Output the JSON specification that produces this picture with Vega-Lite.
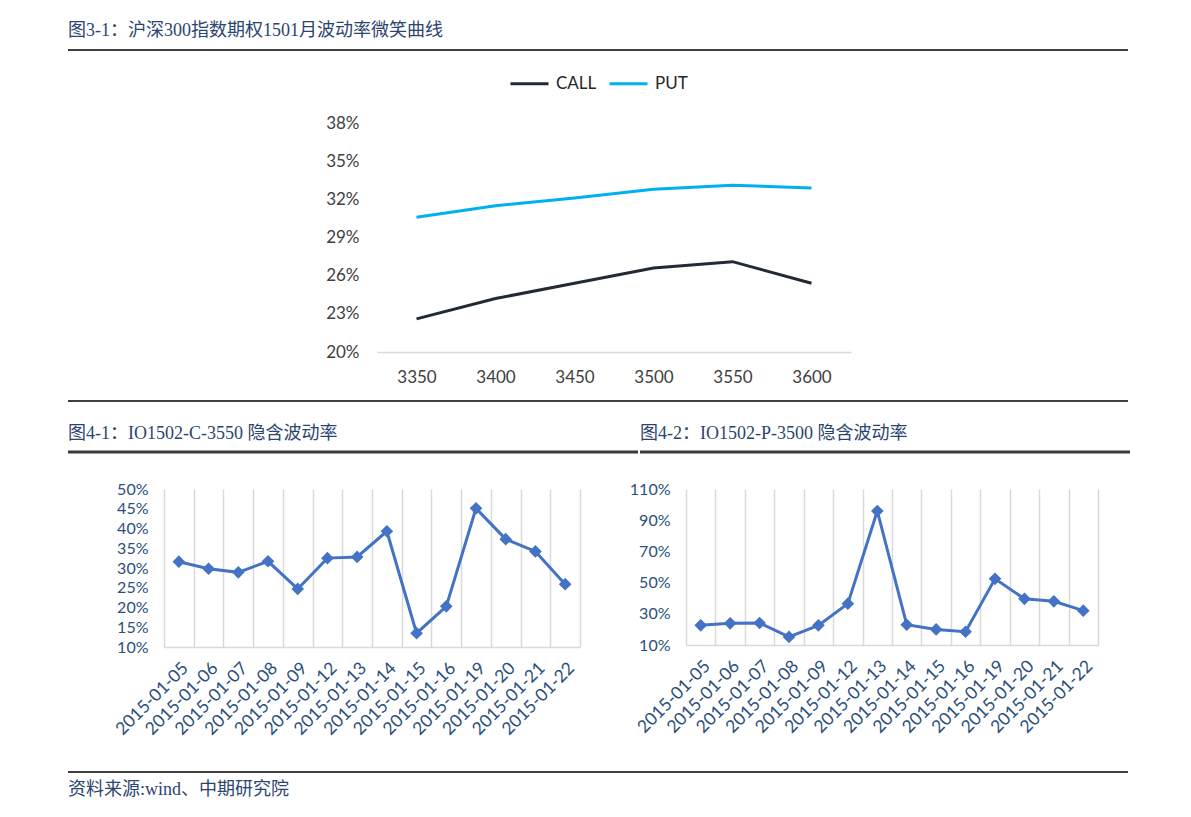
{
  "$schema": "https://vega.github.io/schema/vega-lite/v6.json",
  "background": "white",
  "padding": {"left": 66, "top": 22, "right": 0, "bottom": 0},
  "spacing": 0,
  "resolve": {"legend": {"color": "independent"}, "scale": {"color": "independent"}},
  "config": {
    "view": {"stroke": null},
    "font": "Lato",
    "title": {"font": "'Liberation Serif', 'Noto Sans CJK SC'", "fontSize": 18, "fontWeight": "normal", "color": "#2b4570", "anchor": "start", "frame": "group"}
  },
  "datasets": {
    "smile": [
      {"strike": "3350", "type": "CALL", "iv": 0.226},
      {"strike": "3400", "type": "CALL", "iv": 0.242},
      {"strike": "3450", "type": "CALL", "iv": 0.254},
      {"strike": "3500", "type": "CALL", "iv": 0.266},
      {"strike": "3550", "type": "CALL", "iv": 0.271},
      {"strike": "3600", "type": "CALL", "iv": 0.254},
      {"strike": "3350", "type": "PUT", "iv": 0.306},
      {"strike": "3400", "type": "PUT", "iv": 0.315},
      {"strike": "3450", "type": "PUT", "iv": 0.321},
      {"strike": "3500", "type": "PUT", "iv": 0.328},
      {"strike": "3550", "type": "PUT", "iv": 0.331},
      {"strike": "3600", "type": "PUT", "iv": 0.329}
    ],
    "c3550": [
      {"date": "2015-01-05", "iv": 0.316},
      {"date": "2015-01-06", "iv": 0.298},
      {"date": "2015-01-07", "iv": 0.289},
      {"date": "2015-01-08", "iv": 0.317},
      {"date": "2015-01-09", "iv": 0.247},
      {"date": "2015-01-12", "iv": 0.325},
      {"date": "2015-01-13", "iv": 0.328},
      {"date": "2015-01-14", "iv": 0.393},
      {"date": "2015-01-15", "iv": 0.135},
      {"date": "2015-01-16", "iv": 0.203},
      {"date": "2015-01-19", "iv": 0.451},
      {"date": "2015-01-20", "iv": 0.373},
      {"date": "2015-01-21", "iv": 0.342},
      {"date": "2015-01-22", "iv": 0.259}
    ],
    "p3500": [
      {"date": "2015-01-05", "iv": 0.226},
      {"date": "2015-01-06", "iv": 0.239},
      {"date": "2015-01-07", "iv": 0.241},
      {"date": "2015-01-08", "iv": 0.152},
      {"date": "2015-01-09", "iv": 0.226},
      {"date": "2015-01-12", "iv": 0.365},
      {"date": "2015-01-13", "iv": 0.959},
      {"date": "2015-01-14", "iv": 0.230},
      {"date": "2015-01-15", "iv": 0.200},
      {"date": "2015-01-16", "iv": 0.185},
      {"date": "2015-01-19", "iv": 0.524},
      {"date": "2015-01-20", "iv": 0.396},
      {"date": "2015-01-21", "iv": 0.380},
      {"date": "2015-01-22", "iv": 0.320}
    ]
  },
  "vconcat": [
    {
      "title": {"text": "图3-1：沪深300指数期权1501月波动率微笑曲线", "offset": 9},
      "width": 1060, "height": 13,
      "data": {"values": [{}]},
      "mark": {"type": "rule", "color": "#000000", "strokeWidth": 1.5},
      "encoding": {"y": {"datum": 1, "type": "quantitative", "scale": {"domain": [0, 1]}, "axis": null}}
    },
    {
      "spacing": 15,
      "resolve": {"legend": {"color": "independent"}, "scale": {"color": "independent"}},
      "vconcat": [
        {
          "spacing": 0,
          "resolve": {"legend": {"color": "independent"}, "scale": {"color": "independent"}},
          "hconcat": [
            {"width": 257, "height": 1, "data": {"values": []}, "mark": "point", "encoding": {}},
            {
              "width": 474, "height": 229,
              "data": {"name": "smile"},
              "mark": {"type": "line", "strokeWidth": 3},
              "encoding": {
                "x": {"field": "strike", "type": "ordinal", "axis": {"title": null, "labelAngle": 0, "ticks": false, "grid": false, "domainColor": "#d9d9d9", "domainWidth": 1.5, "labelFont": "Lato", "labelFontSize": 17, "labelColor": "#404040", "labelPadding": 17}},
                "y": {"field": "iv", "type": "quantitative", "scale": {"domain": [0.2, 0.38], "nice": false, "zero": false}, "axis": {"title": null, "values": [0.2, 0.23, 0.26, 0.29, 0.32, 0.35, 0.38], "format": ".0%", "domain": false, "ticks": false, "grid": false, "labelFont": "Lato", "labelFontSize": 17, "labelColor": "#404040", "labelPadding": 18}},
                "color": {"field": "type", "type": "nominal", "scale": {"domain": ["CALL", "PUT"], "range": ["#222a35", "#00b0f0"]}, "legend": {"title": null, "orient": "none", "legendX": 132, "legendY": -60, "direction": "horizontal", "symbolType": "stroke", "symbolStrokeWidth": 3, "symbolSize": 1444, "labelFont": "Lato", "labelFontSize": 17, "labelColor": "#262626", "labelOffset": 6, "columnPadding": 6}}
              }
            }
          ]
        },
        {
          "width": 1060, "height": 23,
          "data": {"values": [{}]},
          "mark": {"type": "rule", "color": "#000000", "strokeWidth": 1.5},
          "encoding": {"y": {"datum": 1, "type": "quantitative", "scale": {"domain": [0, 1]}, "axis": null}}
        }
      ]
    },
    {
      "spacing": -8,
      "hconcat": [
        {
          "title": {"text": "图4-1：IO1502-C-3550 隐含波动率", "offset": 8},
          "width": 570, "height": 29,
          "data": {"values": [{}]},
          "mark": {"type": "rule", "color": "#3a3a3a", "strokeWidth": 3},
          "encoding": {"y": {"datum": 1, "type": "quantitative", "scale": {"domain": [0, 1]}, "axis": null}}
        },
        {
          "title": {"text": "图4-2：IO1502-P-3500 隐含波动率", "offset": 8},
          "width": 490, "height": 29,
          "data": {"values": [{}]},
          "mark": {"type": "rule", "color": "#3a3a3a", "strokeWidth": 3},
          "encoding": {"y": {"datum": 1, "type": "quantitative", "scale": {"domain": [0, 1]}, "axis": null}}
        }
      ]
    },
    {
      "spacing": 33,
      "vconcat": [
        {
          "spacing": 0,
          "hconcat": [
            {"width": 44, "height": 1, "data": {"values": []}, "mark": "point", "encoding": {}},
            {
              "spacing": 49,
              "hconcat": [
                {
                  "width": 416, "height": 158,
                  "data": {"name": "c3550"},
                  "mark": {"type": "line", "color": "#4472c4", "strokeWidth": 3, "point": {"shape": "diamond", "size": 160, "filled": true, "color": "#4472c4", "opacity": 1}},
                  "encoding": {
                    "x": {"field": "date", "type": "ordinal", "scale": {"type": "band", "paddingInner": 0, "paddingOuter": 0}, "axis": {"title": null, "labelAngle": -45, "tickBand": "extent", "grid": true, "gridColor": "#d9d9d9", "gridWidth": 1.5, "ticks": false, "domainColor": "#d9d9d9", "domainWidth": 1.5, "labelFont": "Lato", "labelFontSize": 17.5, "labelColor": "#2b4f7e", "labelPadding": 12}},
                    "y": {"field": "iv", "type": "quantitative", "scale": {"domain": [0.1, 0.5], "nice": false, "zero": false}, "axis": {"title": null, "values": [0.1, 0.15, 0.2, 0.25, 0.3, 0.35, 0.4, 0.45, 0.5], "format": ".0%", "domain": false, "ticks": false, "grid": false, "labelFont": "Lato", "labelFontSize": 16, "labelColor": "#2b4f7e", "labelPadding": 16}}
                  }
                },
                {
                  "width": 412, "height": 156,
                  "data": {"name": "p3500"},
                  "mark": {"type": "line", "color": "#4472c4", "strokeWidth": 3, "point": {"shape": "diamond", "size": 160, "filled": true, "color": "#4472c4", "opacity": 1}},
                  "encoding": {
                    "x": {"field": "date", "type": "ordinal", "scale": {"type": "band", "paddingInner": 0, "paddingOuter": 0}, "axis": {"title": null, "labelAngle": -45, "tickBand": "extent", "grid": true, "gridColor": "#d9d9d9", "gridWidth": 1.5, "ticks": false, "domainColor": "#d9d9d9", "domainWidth": 1.5, "labelFont": "Lato", "labelFontSize": 17.5, "labelColor": "#2b4f7e", "labelPadding": 12}},
                    "y": {"field": "iv", "type": "quantitative", "scale": {"domain": [0.1, 1.1], "nice": false, "zero": false}, "axis": {"title": null, "values": [0.1, 0.3, 0.5, 0.7, 0.9, 1.1], "format": ".0%", "domain": false, "ticks": false, "grid": false, "labelFont": "Lato", "labelFontSize": 16, "labelColor": "#2b4f7e", "labelPadding": 16}}
                  }
                }
              ]
            }
          ]
        },
        {
          "title": {"text": "资料来源:wind、中期研究院", "orient": "bottom", "offset": 8},
          "width": 1060, "height": 1,
          "data": {"values": [{}]},
          "mark": {"type": "rule", "color": "#000000", "strokeWidth": 1.5},
          "encoding": {"y": {"datum": 1, "type": "quantitative", "scale": {"domain": [0, 1]}, "axis": null}}
        }
      ]
    }
  ]
}
